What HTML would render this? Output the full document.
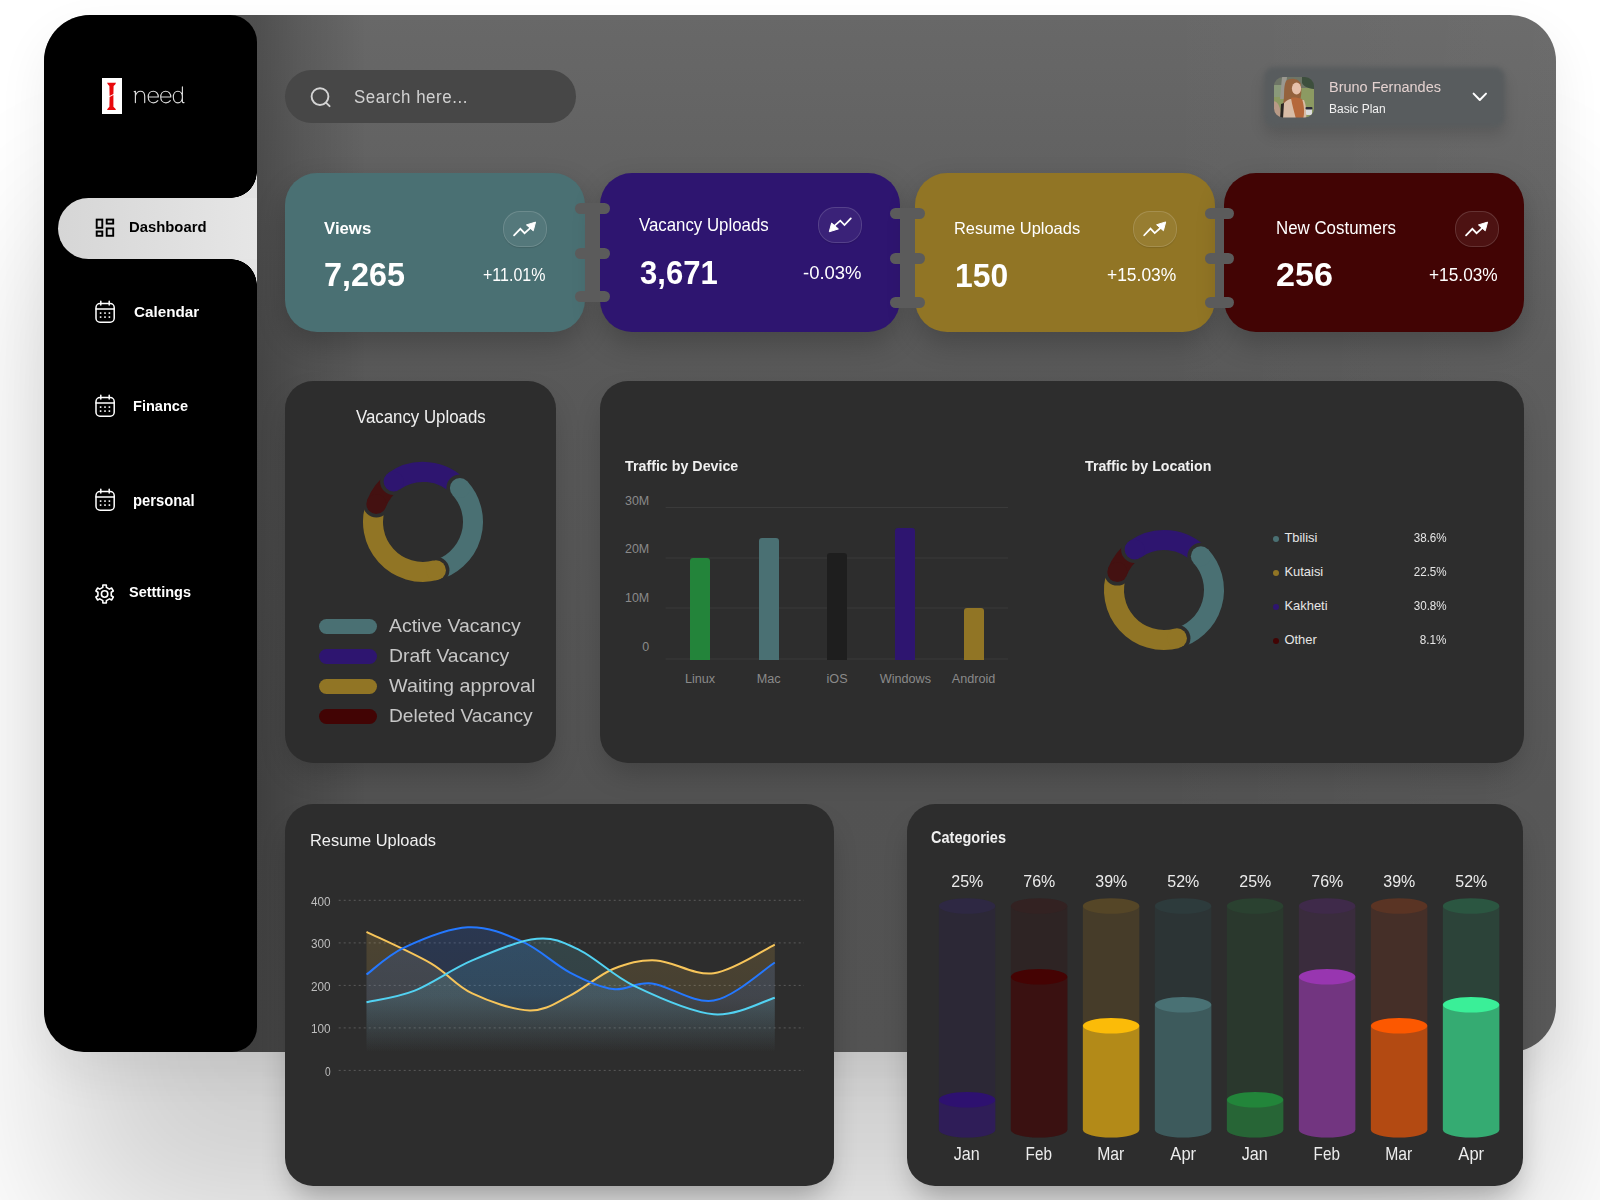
<!DOCTYPE html>
<html><head><meta charset="utf-8"><style>
*{margin:0;padding:0;box-sizing:border-box}
html,body{width:1600px;height:1200px;overflow:hidden;background:#fff;font-family:"Liberation Sans",sans-serif}
.t{position:absolute;white-space:nowrap;line-height:1}
.a{position:absolute}
svg{position:absolute;overflow:visible}

</style></head><body>
<div class="a" style="left:44px;top:15px;width:1512px;height:1037px;border-radius:46px;box-shadow:0 200px 170px -15px rgba(0,0,0,.19),0 20px 50px rgba(0,0,0,.07)"></div>
<div class="a" style="left:44px;top:15px;width:1512px;height:1037px;border-radius:46px;overflow:hidden;background:linear-gradient(180deg,#686868 0%,#636363 12%,#595959 33%,#525252 75%,#535353 100%)"><div class="a" style="left:186px;top:0;width:137px;height:1037px;background:linear-gradient(90deg,rgba(0,0,0,.24),rgba(0,0,0,.24) 19.7%,rgba(0,0,0,.12) 52%,rgba(0,0,0,0))"></div><div class="a" style="left:1100px;top:0;width:412px;height:1037px;background:linear-gradient(90deg,rgba(255,255,255,0),rgba(255,255,255,.03))"></div></div>
<div class="a" style="left:44px;top:15px;width:213px;height:1037px;border-radius:46px 27px 25px 40px;background:#000"></div>
<div class="a" style="left:231px;top:172px;width:26px;height:26px;background:radial-gradient(circle at 0 0,#000 25.5px,#e2e2e2 26px)"></div>
<div class="a" style="left:231px;top:259px;width:26px;height:26px;background:radial-gradient(circle at 0 100%,#000 25.5px,#e4e4e4 26px)"></div>
<div class="a" style="left:58px;top:198px;width:199px;height:61px;border-radius:30.5px 0 0 30.5px;background:linear-gradient(90deg,#d6d6d6,#e6e6e6)"></div>
<div class="a" style="left:102px;top:78px;width:19.5px;height:35.6px;background:#fff"></div>
<svg style="left:0;top:0" width="1600" height="1200"><path d="M107 82.8 L116 82.8 L115.2 84.6 L113.6 86 L113.4 94 L109.6 96 L109.4 86 L108 84.6 Z M109.6 97 L113.4 95 L113.4 106.8 L115.2 108.4 L116 110 L107 110 L107.8 108.4 L109.4 106.8 Z" fill="#e8080c"/></svg>
<svg style="left:0;top:0" width="300" height="200" fill="none" stroke="#dcdcdc" stroke-width="1.15" stroke-linecap="round"><path d="M134.2 91.6 L135.4 91.4 V102.6 M135.4 95.8 C136.4 92.6 138.4 91.2 140.4 91.2 C143.2 91.2 144.7 93 144.7 96.2 V102.6"/><path d="M148.2 97 H158.3 C158.4 93.6 156.2 91.2 153.2 91.2 C150.2 91.2 148.2 93.8 148.2 97 C148.2 100.4 150.4 102.8 153.4 102.8 C155.4 102.8 156.8 102 157.8 100.6"/><path d="M160.7 97 H170.8 C170.9 93.6 168.7 91.2 165.7 91.2 C162.7 91.2 160.7 93.8 160.7 97 C160.7 100.4 162.9 102.8 165.9 102.8 C167.9 102.8 169.3 102 170.3 100.6"/><path d="M182.4 97 C182.4 93.6 180.4 91.2 177.9 91.2 C175.2 91.2 173.3 93.6 173.3 97 C173.3 100.4 175.2 102.8 177.9 102.8 C180.4 102.8 182.4 100.4 182.4 97 M182.4 86.9 V101.8 C182.4 102.4 182.9 102.7 184 102.6"/></svg>
<svg style="left:0;top:0" width="300" height="700" fill="none" stroke="#000" stroke-width="1.9"><rect x="96.7" y="219.6" width="5.6" height="8.2"/><rect x="106.7" y="219.6" width="6.5" height="4"/><rect x="96.7" y="231.5" width="5.6" height="4.3"/><rect x="106.7" y="228.4" width="6.5" height="7.4"/></svg>
<div class="t" style="transform-origin:0 0;transform:scaleX(1.0220);left:128.50px;top:220.20px;font-size:14.53px;font-weight:700;color:#000;">Dashboard</div>
<svg style="left:0;top:300px" width="200" height="40" fill="none" stroke="#fff" stroke-width="1.5" stroke-linecap="round"><rect x="96" y="3.6" width="18.2" height="18.6" rx="4"/><path d="M96 8.9 H114.2 M100.8 1.2 V5 M109.2 1.2 V5"/><g fill="#fff" stroke="none"><rect x="99.8" y="12.3" width="1.6" height="1.6"/><rect x="104.2" y="12.3" width="1.6" height="1.6"/><rect x="108.6" y="12.3" width="1.6" height="1.6"/><rect x="99.8" y="16.3" width="1.6" height="1.6"/><rect x="104.2" y="16.3" width="1.6" height="1.6"/><rect x="108.6" y="16.3" width="1.6" height="1.6"/></g></svg>
<svg style="left:0;top:394px" width="200" height="40" fill="none" stroke="#fff" stroke-width="1.5" stroke-linecap="round"><rect x="96" y="3.6" width="18.2" height="18.6" rx="4"/><path d="M96 8.9 H114.2 M100.8 1.2 V5 M109.2 1.2 V5"/><g fill="#fff" stroke="none"><rect x="99.8" y="12.3" width="1.6" height="1.6"/><rect x="104.2" y="12.3" width="1.6" height="1.6"/><rect x="108.6" y="12.3" width="1.6" height="1.6"/><rect x="99.8" y="16.3" width="1.6" height="1.6"/><rect x="104.2" y="16.3" width="1.6" height="1.6"/><rect x="108.6" y="16.3" width="1.6" height="1.6"/></g></svg>
<svg style="left:0;top:488px" width="200" height="40" fill="none" stroke="#fff" stroke-width="1.5" stroke-linecap="round"><rect x="96" y="3.6" width="18.2" height="18.6" rx="4"/><path d="M96 8.9 H114.2 M100.8 1.2 V5 M109.2 1.2 V5"/><g fill="#fff" stroke="none"><rect x="99.8" y="12.3" width="1.6" height="1.6"/><rect x="104.2" y="12.3" width="1.6" height="1.6"/><rect x="108.6" y="12.3" width="1.6" height="1.6"/><rect x="99.8" y="16.3" width="1.6" height="1.6"/><rect x="104.2" y="16.3" width="1.6" height="1.6"/><rect x="108.6" y="16.3" width="1.6" height="1.6"/></g></svg>
<div class="t" style="transform-origin:0 0;transform:scaleX(1.0273);left:133.50px;top:304.65px;font-size:14.83px;font-weight:700;color:#fff;">Calendar</div>
<div class="t" style="transform-origin:0 0;transform:scaleX(0.9542);left:133.30px;top:398.48px;font-size:15.26px;font-weight:700;color:#fff;">Finance</div>
<div class="t" style="transform-origin:0 0;transform:scaleX(0.9101);left:133.30px;top:491.72px;font-size:16.28px;font-weight:700;color:#fff;">personal</div>
<svg style="left:0;top:0" width="300" height="700" fill="none" stroke="#fff" stroke-width="1.6" stroke-linejoin="round"><path d="M102.81 587.34 L102.88 584.96 L106.32 584.96 L106.39 587.34 L109.48 589.12 L111.56 587.99 L113.29 590.97 L111.26 592.21 L111.26 595.79 L113.29 597.03 L111.56 600.01 L109.48 598.88 L106.39 600.66 L106.32 603.04 L102.88 603.04 L102.81 600.66 L99.72 598.88 L97.64 600.01 L95.91 597.03 L97.94 595.79 L97.94 592.21 L95.91 590.97 L97.64 587.99 L99.72 589.12Z"/><circle cx="104.6" cy="594" r="3.2"/></svg>
<div class="t" style="transform-origin:0 0;transform:scaleX(0.9982);left:129.00px;top:584.70px;font-size:14.53px;font-weight:700;color:#fff;">Setttings</div>
<div class="a" style="left:285px;top:70px;width:291px;height:53px;border-radius:26.5px;background:#474747"></div>
<svg style="left:0;top:0" width="400" height="200" fill="none" stroke="#d4d4d4" stroke-width="1.9" stroke-linecap="round"><circle cx="320" cy="96.6" r="8.4"/><path d="M326.2 102.8 L329.6 106.2"/></svg>
<div class="t" style="transform-origin:0 0;transform:scaleX(0.9378);left:353.60px;top:88.14px;font-size:18.02px;font-weight:400;color:#d2d2d2;letter-spacing:0.6px;">Search here...</div>
<div class="a" style="left:1264px;top:67px;width:241px;height:60px;border-radius:10px;background:#585c5e;filter:blur(2px);box-shadow:0 8px 14px rgba(0,0,0,.13)"></div>
<svg style="left:1274px;top:76.8px" width="40" height="40.4" viewBox="0 0 40 40.4"><defs><clipPath id="av"><rect x="0" y="0" width="40" height="40.4" rx="9"/></clipPath><filter id="avb"><feGaussianBlur stdDeviation="0.6"/></filter></defs><g clip-path="url(#av)"><g filter="url(#avb)"><rect x="-2" y="-2" width="44" height="45" fill="#8c9a62"/><rect x="-2" y="-2" width="44" height="13" fill="#6e7566"/><path d="M28 -2 H42 V12 C36 12 30 10 28 6 Z" fill="#3e4f3c"/><path d="M-2 8 H10 V20 H-2 Z" fill="#8a9a7a"/><path d="M8 0 L13 0 L10 22 L6 22 Z" fill="#9a9890"/><path d="M-2 24 C4 24 6 28 8 42 H-2 Z" fill="#b89a86"/><path d="M12 4 C16 0 26 1 27 8 C28 14 27 20 26 24 L18 26 C16 24 12 26 9 27 C11 20 9 10 12 4 Z" fill="#94623e"/><ellipse cx="22.5" cy="11.5" rx="4.6" ry="6" fill="#e6c0aa"/><path d="M6 42 C6 30 10 24 16 22 L30 23 C32 28 33 36 32 42 Z" fill="#d8bca6"/><path d="M17 21 C20 20 25 21 28 22 C30 28 31 36 29 42 H22 C20 34 18 28 17 21 Z" fill="#b5683a"/><path d="M7 27 L10 26 L9 42 L6 42 Z" fill="#2a2624"/><rect x="32" y="31" width="6" height="7" rx="1" fill="#dcdcdc"/><rect x="31.5" y="30" width="7" height="2.5" rx="1" fill="#2a2a38"/></g></g></svg>
<div class="t" style="transform-origin:0 0;transform:scaleX(1.0182);left:1329.00px;top:79.74px;font-size:14.24px;font-weight:400;color:#e4d2d0;">Bruno Fernandes</div>
<div class="t" style="transform-origin:0 0;transform:scaleX(0.9492);left:1329.00px;top:103.00px;font-size:12.65px;font-weight:400;color:#f2f2f2;">Basic Plan</div>
<svg style="left:0;top:0" width="1600" height="200" fill="none" stroke="#fff" stroke-width="2" stroke-linecap="round" stroke-linejoin="round"><path d="M1473.6 93.6 L1479.8 100 L1486 93.6"/></svg>
<div class="a" style="left:285px;top:173px;width:300px;height:159px;border-radius:32px;background:#4a7073;box-shadow:0 12px 28px rgba(0,0,0,.22)"></div>
<div class="a" style="left:600px;top:173px;width:300px;height:159px;border-radius:32px;background:#2e1570;box-shadow:0 12px 28px rgba(0,0,0,.22)"></div>
<div class="a" style="left:915px;top:173px;width:300px;height:159px;border-radius:32px;background:#917525;box-shadow:0 12px 28px rgba(0,0,0,.22)"></div>
<div class="a" style="left:1224px;top:173px;width:300px;height:159px;border-radius:32px;background:#420404;box-shadow:0 12px 28px rgba(0,0,0,.22)"></div>
<div class="a" style="left:585px;top:204.5px;width:15px;height:96.0px;background:#5b5b5b"></div>
<div class="a" style="left:575px;top:203.0px;width:35px;height:11px;border-radius:5.5px;background:#5b5b5b"></div>
<div class="a" style="left:575px;top:247.5px;width:35px;height:11px;border-radius:5.5px;background:#5b5b5b"></div>
<div class="a" style="left:575px;top:291.0px;width:35px;height:11px;border-radius:5.5px;background:#5b5b5b"></div>
<div class="a" style="left:900px;top:209.6px;width:15px;height:96.6px;background:#5b5b5b"></div>
<div class="a" style="left:890px;top:208.1px;width:35px;height:11px;border-radius:5.5px;background:#5b5b5b"></div>
<div class="a" style="left:890px;top:252.7px;width:35px;height:11px;border-radius:5.5px;background:#5b5b5b"></div>
<div class="a" style="left:890px;top:296.7px;width:35px;height:11px;border-radius:5.5px;background:#5b5b5b"></div>
<div class="a" style="left:1215px;top:209.6px;width:9px;height:96.6px;background:#5b5b5b"></div>
<div class="a" style="left:1205px;top:208.1px;width:29px;height:11px;border-radius:5.5px;background:#5b5b5b"></div>
<div class="a" style="left:1205px;top:252.7px;width:29px;height:11px;border-radius:5.5px;background:#5b5b5b"></div>
<div class="a" style="left:1205px;top:296.7px;width:29px;height:11px;border-radius:5.5px;background:#5b5b5b"></div>
<div class="a" style="left:503px;top:211px;width:43.700000000000045px;height:36px;border-radius:17px;background:rgba(255,255,255,.06);border:1px solid rgba(255,255,255,.14);box-shadow:0 1px 1px rgba(0,0,0,.12)"></div>
<svg style="left:0;top:0" width="1600" height="400"><g transform="translate(524.85 229.00)"><path d="M-10.8 6.4 L-4.5 -0.2 L-0.3 4.2 L6.2 -1.6" fill="none" stroke="#fff" stroke-width="1.8" stroke-linecap="round" stroke-linejoin="miter"/><path d="M10.7 -6.9 L1.6 -4.1 L8.4 1.8 Z" fill="#fff" stroke="#fff" stroke-width="1" stroke-linejoin="round"/></g></svg>
<div class="a" style="left:818px;top:206.8px;width:44px;height:36.099999999999994px;border-radius:17px;background:rgba(255,255,255,.06);border:1px solid rgba(255,255,255,.14);box-shadow:0 1px 1px rgba(0,0,0,.12)"></div>
<svg style="left:0;top:0" width="1600" height="400"><g transform="translate(840.00 224.85) rotate(180)"><path d="M-10.8 6.4 L-4.5 -0.2 L-0.3 4.2 L6.2 -1.6" fill="none" stroke="#fff" stroke-width="1.8" stroke-linecap="round" stroke-linejoin="miter"/><path d="M10.7 -6.9 L1.6 -4.1 L8.4 1.8 Z" fill="#fff" stroke="#fff" stroke-width="1" stroke-linejoin="round"/></g></svg>
<div class="a" style="left:1133px;top:211px;width:44px;height:35.69999999999999px;border-radius:17px;background:rgba(255,255,255,.06);border:1px solid rgba(255,255,255,.14);box-shadow:0 1px 1px rgba(0,0,0,.12)"></div>
<svg style="left:0;top:0" width="1600" height="400"><g transform="translate(1155.00 228.85)"><path d="M-10.8 6.4 L-4.5 -0.2 L-0.3 4.2 L6.2 -1.6" fill="none" stroke="#fff" stroke-width="1.8" stroke-linecap="round" stroke-linejoin="miter"/><path d="M10.7 -6.9 L1.6 -4.1 L8.4 1.8 Z" fill="#fff" stroke="#fff" stroke-width="1" stroke-linejoin="round"/></g></svg>
<div class="a" style="left:1455px;top:211px;width:43.700000000000045px;height:36px;border-radius:17px;background:rgba(255,255,255,.06);border:1px solid rgba(255,255,255,.14);box-shadow:0 1px 1px rgba(0,0,0,.12)"></div>
<svg style="left:0;top:0" width="1600" height="400"><g transform="translate(1476.85 229.00)"><path d="M-10.8 6.4 L-4.5 -0.2 L-0.3 4.2 L6.2 -1.6" fill="none" stroke="#fff" stroke-width="1.8" stroke-linecap="round" stroke-linejoin="miter"/><path d="M10.7 -6.9 L1.6 -4.1 L8.4 1.8 Z" fill="#fff" stroke="#fff" stroke-width="1" stroke-linejoin="round"/></g></svg>
<div class="t" style="transform-origin:0 0;transform:scaleX(0.9866);left:323.75px;top:220.30px;font-size:17.01px;font-weight:700;color:#fff;">Views</div>
<div class="t" style="transform-origin:0 0;transform:scaleX(0.9702);left:324.00px;top:258.46px;font-size:33.36px;font-weight:700;color:#fff;">7,265</div>
<div class="t" style="transform-origin:0 0;transform:scaleX(0.8564);left:482.60px;top:265.79px;font-size:18.68px;font-weight:400;color:#fff;">+11.01%</div>
<div class="t" style="transform-origin:0 0;transform:scaleX(0.9196);left:639.00px;top:216.10px;font-size:18.31px;font-weight:400;color:#fff;">Vacancy Uploads</div>
<div class="t" style="transform-origin:0 0;transform:scaleX(0.9333);left:639.70px;top:255.72px;font-size:33.28px;font-weight:700;color:#fff;">3,671</div>
<div class="t" style="transform-origin:0 0;transform:scaleX(0.9699);left:802.50px;top:262.88px;font-size:19.04px;font-weight:400;color:#fff;">-0.03%</div>
<div class="t" style="transform-origin:0 0;transform:scaleX(0.9842);left:953.50px;top:220.85px;font-size:16.72px;font-weight:400;color:#fff;">Resume Uploads</div>
<div class="t" style="transform-origin:0 0;transform:scaleX(0.9359);left:954.90px;top:258.21px;font-size:34.01px;font-weight:700;color:#fff;">150</div>
<div class="t" style="transform-origin:0 0;transform:scaleX(0.9227);left:1106.70px;top:266.01px;font-size:18.90px;font-weight:400;color:#fff;">+15.03%</div>
<div class="t" style="transform-origin:0 0;transform:scaleX(0.9675);left:1275.50px;top:220.24px;font-size:17.44px;font-weight:400;color:#fff;">New Costumers</div>
<div class="t" style="transform-origin:0 0;transform:scaleX(1.0565);left:1276.00px;top:258.62px;font-size:32.34px;font-weight:700;color:#fff;">256</div>
<div class="t" style="transform-origin:0 0;transform:scaleX(0.9153);left:1428.75px;top:265.76px;font-size:18.90px;font-weight:400;color:#fff;">+15.03%</div>
<div class="a" style="left:285px;top:381px;width:271px;height:382px;border-radius:28px;background:#2d2d2d;box-shadow:0 14px 30px -6px rgba(0,0,0,.22)"></div>
<div class="t" style="transform-origin:0 0;transform:scaleX(0.9196);left:355.80px;top:408.10px;font-size:18.31px;font-weight:400;color:#f0f0f0;">Vacancy Uploads</div>
<svg style="left:0;top:0" width="1600" height="1200"><mask id="dm1" maskUnits="userSpaceOnUse" x="0" y="0" width="1600" height="1200"><rect x="0" y="0" width="1600" height="1200" fill="#fff"/><circle cx="459.86" cy="488.12" r="13.5" fill="#000"/></mask><g mask="url(#dm1)"><path d="M393.61 481.45 A50 50 0 0 1 459.86 488.12" fill="none" stroke="#2e1570" stroke-width="20"/><circle cx="393.61" cy="481.45" r="10" fill="#2e1570"/></g><mask id="dm2" maskUnits="userSpaceOnUse" x="0" y="0" width="1600" height="1200"><rect x="0" y="0" width="1600" height="1200" fill="#fff"/><circle cx="435.94" cy="570.20" r="13.5" fill="#000"/></mask><g mask="url(#dm2)"><path d="M459.86 488.12 A50 50 0 0 1 435.94 570.20" fill="none" stroke="#4a7073" stroke-width="20"/><circle cx="459.86" cy="488.12" r="10" fill="#4a7073"/></g><mask id="dm3" maskUnits="userSpaceOnUse" x="0" y="0" width="1600" height="1200"><rect x="0" y="0" width="1600" height="1200" fill="#fff"/><circle cx="376.32" cy="503.98" r="13.5" fill="#000"/></mask><g mask="url(#dm3)"><path d="M435.94 570.20 A50 50 0 0 1 376.32 503.98" fill="none" stroke="#917525" stroke-width="20"/><circle cx="435.94" cy="570.20" r="10" fill="#917525"/></g><mask id="dm4" maskUnits="userSpaceOnUse" x="0" y="0" width="1600" height="1200"><rect x="0" y="0" width="1600" height="1200" fill="#fff"/><circle cx="393.61" cy="481.45" r="13.5" fill="#000"/></mask><g mask="url(#dm4)"><path d="M376.32 503.98 A50 50 0 0 1 393.61 481.45" fill="none" stroke="#441111" stroke-width="20"/><circle cx="376.32" cy="503.98" r="10" fill="#441111"/></g></svg>
<div class="a" style="left:318.6px;top:618.5px;width:58.7px;height:15px;border-radius:7.5px;background:#4a7073"></div>
<div class="t" style="transform-origin:0 0;transform:scaleX(1.0467);left:389.00px;top:617.05px;font-size:18.60px;font-weight:400;color:#c6c6c6;">Active Vacancy</div>
<div class="a" style="left:318.6px;top:648.5px;width:58.7px;height:15px;border-radius:7.5px;background:#2e1570"></div>
<div class="t" style="transform-origin:0 0;transform:scaleX(1.0424);left:389.00px;top:647.05px;font-size:18.60px;font-weight:400;color:#c6c6c6;">Draft Vacancy</div>
<div class="a" style="left:318.6px;top:678.5px;width:58.7px;height:15px;border-radius:7.5px;background:#917525"></div>
<div class="t" style="transform-origin:0 0;transform:scaleX(1.0616);left:389.00px;top:677.05px;font-size:18.60px;font-weight:400;color:#c6c6c6;">Waiting approval</div>
<div class="a" style="left:318.6px;top:708.5px;width:58.7px;height:15px;border-radius:7.5px;background:#420404"></div>
<div class="t" style="transform-origin:0 0;transform:scaleX(1.0316);left:389.00px;top:707.05px;font-size:18.60px;font-weight:400;color:#c6c6c6;">Deleted Vacancy</div>
<div class="a" style="left:600px;top:381px;width:924px;height:382px;border-radius:28px;background:#2d2d2d;box-shadow:0 14px 30px -6px rgba(0,0,0,.22)"></div>
<div class="t" style="transform-origin:0 0;transform:scaleX(0.9820);left:625.00px;top:458.70px;font-size:14.53px;font-weight:700;color:#f0f0f0;">Traffic by Device</div>
<div class="t" style="transform-origin:0 0;transform:scaleX(0.9795);left:1085.00px;top:458.70px;font-size:14.53px;font-weight:700;color:#f0f0f0;">Traffic by Location</div>
<svg style="left:0;top:0" width="1600" height="1200"><path d="M665.6 507.5 H1008" stroke="#3a3a3a" stroke-width="1"/><path d="M665.6 558 H1008" stroke="#3a3a3a" stroke-width="1"/><path d="M665.6 608 H1008" stroke="#3a3a3a" stroke-width="1"/><path d="M665.6 659 H1008" stroke="#3a3a3a" stroke-width="1"/></svg>
<div class="t" style="left:624.97px;top:494.72px;font-size:12.50px;font-weight:400;color:#8a8a8a;">30M</div>
<div class="t" style="left:624.97px;top:543.42px;font-size:12.50px;font-weight:400;color:#8a8a8a;">20M</div>
<div class="t" style="left:624.97px;top:592.02px;font-size:12.50px;font-weight:400;color:#8a8a8a;">10M</div>
<div class="t" style="left:642.35px;top:641.02px;font-size:12.50px;font-weight:400;color:#8a8a8a;">0</div>
<div class="a" style="left:690px;top:558px;width:20.2px;height:101.70000000000005px;border-radius:3px 3px 0 0;background:#23843a"></div>
<div class="t" style="left:684.98px;top:672.50px;font-size:12.65px;font-weight:400;color:#8a8a8a;">Linux</div>
<div class="a" style="left:758.5px;top:538px;width:20.2px;height:121.70000000000005px;border-radius:3px 3px 0 0;background:#4a7073"></div>
<div class="t" style="left:756.65px;top:672.50px;font-size:12.65px;font-weight:400;color:#8a8a8a;">Mac</div>
<div class="a" style="left:827px;top:552.9px;width:20.2px;height:106.80000000000007px;border-radius:3px 3px 0 0;background:#1e1e1e"></div>
<div class="t" style="left:826.56px;top:672.50px;font-size:12.65px;font-weight:400;color:#8a8a8a;">iOS</div>
<div class="a" style="left:895.3px;top:528px;width:20.2px;height:131.70000000000005px;border-radius:3px 3px 0 0;background:#2e1570"></div>
<div class="t" style="left:879.76px;top:672.50px;font-size:12.65px;font-weight:400;color:#8a8a8a;">Windows</div>
<div class="a" style="left:963.5px;top:608px;width:20.2px;height:51.700000000000045px;border-radius:3px 3px 0 0;background:#917525"></div>
<div class="t" style="left:951.81px;top:672.50px;font-size:12.65px;font-weight:400;color:#8a8a8a;">Android</div>
<svg style="left:0;top:0" width="1600" height="1200"><mask id="dm5" maskUnits="userSpaceOnUse" x="0" y="0" width="1600" height="1200"><rect x="0" y="0" width="1600" height="1200" fill="#fff"/><circle cx="1200.86" cy="556.22" r="13.5" fill="#000"/></mask><g mask="url(#dm5)"><path d="M1134.61 549.55 A50 50 0 0 1 1200.86 556.22" fill="none" stroke="#2e1570" stroke-width="20"/><circle cx="1134.61" cy="549.55" r="10" fill="#2e1570"/></g><mask id="dm6" maskUnits="userSpaceOnUse" x="0" y="0" width="1600" height="1200"><rect x="0" y="0" width="1600" height="1200" fill="#fff"/><circle cx="1176.94" cy="638.30" r="13.5" fill="#000"/></mask><g mask="url(#dm6)"><path d="M1200.86 556.22 A50 50 0 0 1 1176.94 638.30" fill="none" stroke="#4a7073" stroke-width="20"/><circle cx="1200.86" cy="556.22" r="10" fill="#4a7073"/></g><mask id="dm7" maskUnits="userSpaceOnUse" x="0" y="0" width="1600" height="1200"><rect x="0" y="0" width="1600" height="1200" fill="#fff"/><circle cx="1117.32" cy="572.08" r="13.5" fill="#000"/></mask><g mask="url(#dm7)"><path d="M1176.94 638.30 A50 50 0 0 1 1117.32 572.08" fill="none" stroke="#917525" stroke-width="20"/><circle cx="1176.94" cy="638.30" r="10" fill="#917525"/></g><mask id="dm8" maskUnits="userSpaceOnUse" x="0" y="0" width="1600" height="1200"><rect x="0" y="0" width="1600" height="1200" fill="#fff"/><circle cx="1134.61" cy="549.55" r="13.5" fill="#000"/></mask><g mask="url(#dm8)"><path d="M1117.32 572.08 A50 50 0 0 1 1134.61 549.55" fill="none" stroke="#441111" stroke-width="20"/><circle cx="1117.32" cy="572.08" r="10" fill="#441111"/></g></svg>
<div class="a" style="left:1272.7px;top:536.0px;width:6px;height:6px;border-radius:50%;background:#4a7073"></div>
<div class="t" style="left:1284.40px;top:532.45px;font-size:12.94px;font-weight:400;color:#e6e6e6;">Tbilisi</div>
<div class="t" style="left:1409.91px;transform-origin:100% 0;transform:scaleX(0.8995);top:532.45px;font-size:12.94px;font-weight:400;color:#e6e6e6;">38.6%</div>
<div class="a" style="left:1272.7px;top:569.9px;width:6px;height:6px;border-radius:50%;background:#917525"></div>
<div class="t" style="left:1284.40px;top:566.35px;font-size:12.94px;font-weight:400;color:#e6e6e6;">Kutaisi</div>
<div class="t" style="left:1409.91px;transform-origin:100% 0;transform:scaleX(0.8995);top:566.35px;font-size:12.94px;font-weight:400;color:#e6e6e6;">22.5%</div>
<div class="a" style="left:1272.7px;top:603.8px;width:6px;height:6px;border-radius:50%;background:#2e1570"></div>
<div class="t" style="left:1284.40px;top:600.25px;font-size:12.94px;font-weight:400;color:#e6e6e6;">Kakheti</div>
<div class="t" style="left:1409.91px;transform-origin:100% 0;transform:scaleX(0.8995);top:600.25px;font-size:12.94px;font-weight:400;color:#e6e6e6;">30.8%</div>
<div class="a" style="left:1272.7px;top:637.7px;width:6px;height:6px;border-radius:50%;background:#420404"></div>
<div class="t" style="left:1284.40px;top:634.15px;font-size:12.94px;font-weight:400;color:#e6e6e6;">Other</div>
<div class="t" style="left:1417.10px;transform-origin:100% 0;transform:scaleX(0.9085);top:634.15px;font-size:12.94px;font-weight:400;color:#e6e6e6;">8.1%</div>
<div class="a" style="left:285px;top:804px;width:549px;height:382px;border-radius:28px;background:#2d2d2d;box-shadow:0 18px 30px -8px rgba(0,0,0,.3)"></div>
<div class="t" style="transform-origin:0 0;transform:scaleX(0.9662);left:309.50px;top:831.90px;font-size:17.01px;font-weight:400;color:#f0f0f0;">Resume Uploads</div>
<div class="t" style="transform-origin:0 0;transform:scaleX(0.9396);left:310.80px;top:895.62px;font-size:12.50px;font-weight:400;color:#bdbdbd;">400</div>
<div class="t" style="transform-origin:0 0;transform:scaleX(0.9747);left:310.80px;top:938.49px;font-size:12.06px;font-weight:400;color:#bdbdbd;">300</div>
<div class="t" style="transform-origin:0 0;transform:scaleX(0.9747);left:310.80px;top:980.99px;font-size:12.06px;font-weight:400;color:#bdbdbd;">200</div>
<div class="t" style="transform-origin:0 0;transform:scaleX(0.9747);left:310.80px;top:1023.39px;font-size:12.06px;font-weight:400;color:#bdbdbd;">100</div>
<div class="t" style="transform-origin:0 0;transform:scaleX(0.8429);left:324.75px;top:1065.59px;font-size:12.06px;font-weight:400;color:#bdbdbd;">0</div>
<svg style="left:0;top:0" width="1600" height="1200"><defs><linearGradient id="fy" x1="0" y1="0" x2="0" y2="1" gradientUnits="objectBoundingBox"><stop offset="0" stop-color="#ffc850" stop-opacity=".15"/><stop offset=".55" stop-color="#ffc850" stop-opacity=".12"/><stop offset="1" stop-color="#ffc850" stop-opacity="0"/></linearGradient><linearGradient id="fb" x1="0" y1="0" x2="0" y2="1"><stop offset="0" stop-color="#1f6bff" stop-opacity=".17"/><stop offset=".55" stop-color="#1f6bff" stop-opacity=".13"/><stop offset="1" stop-color="#1f6bff" stop-opacity="0"/></linearGradient><linearGradient id="fc" x1="0" y1="0" x2="0" y2="1"><stop offset="0" stop-color="#60d8f0" stop-opacity=".14"/><stop offset=".5" stop-color="#60d8f0" stop-opacity=".12"/><stop offset="1" stop-color="#60d8f0" stop-opacity="0"/></linearGradient></defs><path d="M338.7 900.3 H804" stroke="#5a5a5a" stroke-width="1" stroke-dasharray="2 3"/><path d="M338.7 942.9 H804" stroke="#5a5a5a" stroke-width="1" stroke-dasharray="2 3"/><path d="M338.7 985.4 H804" stroke="#5a5a5a" stroke-width="1" stroke-dasharray="2 3"/><path d="M338.7 1027.9 H804" stroke="#5a5a5a" stroke-width="1" stroke-dasharray="2 3"/><path d="M338.7 1070.4 H804" stroke="#5a5a5a" stroke-width="1" stroke-dasharray="2 3"/><path d="M366.50 931.90 C377.17 937.12 412.88 952.95 430.50 963.20 C448.12 973.45 455.67 985.53 472.20 993.40 C488.73 1001.27 513.40 1010.03 529.70 1010.40 C546.00 1010.77 556.10 1002.50 570.00 995.60 C583.90 988.70 598.73 974.87 613.10 969.00 C627.47 963.13 639.43 959.68 656.20 960.40 C672.97 961.12 693.93 975.93 713.70 973.30 C733.47 970.67 764.62 949.38 774.80 944.60 L774.8 1052 L366.5 1052 Z" fill="url(#fy)"/><path d="M366.50 974.50 C372.85 969.98 387.70 955.27 404.60 947.40 C421.50 939.53 448.25 928.25 467.90 927.30 C487.55 926.35 505.48 934.15 522.50 941.70 C539.52 949.25 554.90 964.70 570.00 972.60 C585.10 980.50 599.45 987.30 613.10 989.10 C626.75 990.90 635.13 981.48 651.90 983.40 C668.67 985.32 693.22 1004.08 713.70 1000.60 C734.18 997.12 764.62 968.85 774.80 962.50 L774.8 1052 L366.5 1052 Z" fill="url(#fb)"/><path d="M366.50 1002.30 C374.53 1000.35 397.08 997.58 414.70 990.60 C432.32 983.62 451.83 969.03 472.20 960.40 C492.57 951.77 518.93 940.48 536.90 938.80 C554.87 937.12 563.70 942.40 580.00 950.30 C596.30 958.20 612.42 975.53 634.70 986.20 C656.98 996.87 690.35 1012.38 713.70 1014.30 C737.05 1016.22 764.62 1000.47 774.80 997.70 L774.8 1052 L366.5 1052 Z" fill="url(#fc)"/><path d="M366.50 931.90 C377.17 937.12 412.88 952.95 430.50 963.20 C448.12 973.45 455.67 985.53 472.20 993.40 C488.73 1001.27 513.40 1010.03 529.70 1010.40 C546.00 1010.77 556.10 1002.50 570.00 995.60 C583.90 988.70 598.73 974.87 613.10 969.00 C627.47 963.13 639.43 959.68 656.20 960.40 C672.97 961.12 693.93 975.93 713.70 973.30 C733.47 970.67 764.62 949.38 774.80 944.60" fill="none" stroke="#f7c55a" stroke-width="2"/><path d="M366.50 974.50 C372.85 969.98 387.70 955.27 404.60 947.40 C421.50 939.53 448.25 928.25 467.90 927.30 C487.55 926.35 505.48 934.15 522.50 941.70 C539.52 949.25 554.90 964.70 570.00 972.60 C585.10 980.50 599.45 987.30 613.10 989.10 C626.75 990.90 635.13 981.48 651.90 983.40 C668.67 985.32 693.22 1004.08 713.70 1000.60 C734.18 997.12 764.62 968.85 774.80 962.50" fill="none" stroke="#2478ff" stroke-width="2"/><path d="M366.50 1002.30 C374.53 1000.35 397.08 997.58 414.70 990.60 C432.32 983.62 451.83 969.03 472.20 960.40 C492.57 951.77 518.93 940.48 536.90 938.80 C554.87 937.12 563.70 942.40 580.00 950.30 C596.30 958.20 612.42 975.53 634.70 986.20 C656.98 996.87 690.35 1012.38 713.70 1014.30 C737.05 1016.22 764.62 1000.47 774.80 997.70" fill="none" stroke="#52d2f2" stroke-width="2"/></svg>
<div class="a" style="left:907px;top:804px;width:616px;height:382px;border-radius:28px;background:#2d2d2d;box-shadow:0 18px 30px -8px rgba(0,0,0,.3)"></div>
<div class="t" style="transform-origin:0 0;transform:scaleX(0.8920);left:931.00px;top:829.42px;font-size:16.28px;font-weight:700;color:#f0f0f0;">Categories</div>
<div class="t" style="left:949.80px;transform:scaleX(0.9250);top:873.26px;font-size:17.30px;font-weight:400;color:#ececec;">25%</div>
<div class="t" style="left:952.34px;transform:scaleX(0.8809);top:1144.50px;font-size:18.31px;font-weight:400;color:#ececec;">Jan</div>
<div class="t" style="left:1021.80px;transform:scaleX(0.9250);top:873.26px;font-size:17.30px;font-weight:400;color:#ececec;">76%</div>
<div class="t" style="left:1023.33px;transform:scaleX(0.8341);top:1144.50px;font-size:18.31px;font-weight:400;color:#ececec;">Feb</div>
<div class="t" style="left:1093.80px;transform:scaleX(0.9250);top:873.26px;font-size:17.30px;font-weight:400;color:#ececec;">39%</div>
<div class="t" style="left:1095.34px;transform:scaleX(0.8599);top:1144.50px;font-size:18.31px;font-weight:400;color:#ececec;">Mar</div>
<div class="t" style="left:1165.80px;transform:scaleX(0.9250);top:873.26px;font-size:17.30px;font-weight:400;color:#ececec;">52%</div>
<div class="t" style="left:1168.86px;transform:scaleX(0.9058);top:1144.50px;font-size:18.31px;font-weight:400;color:#ececec;">Apr</div>
<div class="t" style="left:1237.80px;transform:scaleX(0.9250);top:873.26px;font-size:17.30px;font-weight:400;color:#ececec;">25%</div>
<div class="t" style="left:1240.34px;transform:scaleX(0.8809);top:1144.50px;font-size:18.31px;font-weight:400;color:#ececec;">Jan</div>
<div class="t" style="left:1309.80px;transform:scaleX(0.9250);top:873.26px;font-size:17.30px;font-weight:400;color:#ececec;">76%</div>
<div class="t" style="left:1311.33px;transform:scaleX(0.8341);top:1144.50px;font-size:18.31px;font-weight:400;color:#ececec;">Feb</div>
<div class="t" style="left:1381.80px;transform:scaleX(0.9250);top:873.26px;font-size:17.30px;font-weight:400;color:#ececec;">39%</div>
<div class="t" style="left:1383.34px;transform:scaleX(0.8599);top:1144.50px;font-size:18.31px;font-weight:400;color:#ececec;">Mar</div>
<div class="t" style="left:1453.80px;transform:scaleX(0.9250);top:873.26px;font-size:17.30px;font-weight:400;color:#ececec;">52%</div>
<div class="t" style="left:1456.86px;transform:scaleX(0.9058);top:1144.50px;font-size:18.31px;font-weight:400;color:#ececec;">Apr</div>
<svg style="left:0;top:0" width="1600" height="1200"><path d="M938.85 906 V1129.8 A28.25 7.8 0 0 0 995.35 1129.8 V906 Z" fill="#2c2836"/><ellipse cx="967.1" cy="906" rx="28.25" ry="7.8" fill="#2e2843"/><path d="M938.85 1099.7 V1129.8 A28.25 7.8 0 0 0 995.35 1129.8 V1099.7 Z" fill="#2f1d58"/><ellipse cx="967.1" cy="1099.7" rx="28.25" ry="7.8" fill="#2e1170"/><path d="M1010.85 906 V1129.8 A28.25 7.8 0 0 0 1067.35 1129.8 V906 Z" fill="#2e2424"/><ellipse cx="1039.1" cy="906" rx="28.25" ry="7.8" fill="#332222"/><path d="M1010.85 976.8 V1129.8 A28.25 7.8 0 0 0 1067.35 1129.8 V976.8 Z" fill="#3a1111"/><ellipse cx="1039.1" cy="976.8" rx="28.25" ry="7.8" fill="#450303"/><path d="M1082.85 906 V1129.8 A28.25 7.8 0 0 0 1139.35 1129.8 V906 Z" fill="#463c29"/><ellipse cx="1111.1" cy="906" rx="28.25" ry="7.8" fill="#554627"/><path d="M1082.85 1025.8 V1129.8 A28.25 7.8 0 0 0 1139.35 1129.8 V1025.8 Z" fill="#b38a18"/><ellipse cx="1111.1" cy="1025.8" rx="28.25" ry="7.8" fill="#fbbb08"/><path d="M1154.85 906 V1129.8 A28.25 7.8 0 0 0 1211.35 1129.8 V906 Z" fill="#2c3435"/><ellipse cx="1183.1" cy="906" rx="28.25" ry="7.8" fill="#2d3b3c"/><path d="M1154.85 1004.8 V1129.8 A28.25 7.8 0 0 0 1211.35 1129.8 V1004.8 Z" fill="#3d5a5c"/><ellipse cx="1183.1" cy="1004.8" rx="28.25" ry="7.8" fill="#497174"/><path d="M1226.85 906 V1129.8 A28.25 7.8 0 0 0 1283.35 1129.8 V906 Z" fill="#2a382d"/><ellipse cx="1255.1" cy="906" rx="28.25" ry="7.8" fill="#2a4130"/><path d="M1226.85 1099.7 V1129.8 A28.25 7.8 0 0 0 1283.35 1129.8 V1099.7 Z" fill="#276536"/><ellipse cx="1255.1" cy="1099.7" rx="28.25" ry="7.8" fill="#22853a"/><path d="M1298.85 906 V1129.8 A28.25 7.8 0 0 0 1355.35 1129.8 V906 Z" fill="#3a2c3d"/><ellipse cx="1327.1" cy="906" rx="28.25" ry="7.8" fill="#3f2a4a"/><path d="M1298.85 976.8 V1129.8 A28.25 7.8 0 0 0 1355.35 1129.8 V976.8 Z" fill="#723580"/><ellipse cx="1327.1" cy="976.8" rx="28.25" ry="7.8" fill="#9836b0"/><path d="M1370.85 906 V1129.8 A28.25 7.8 0 0 0 1427.35 1129.8 V906 Z" fill="#452f28"/><ellipse cx="1399.1" cy="906" rx="28.25" ry="7.8" fill="#5a3424"/><path d="M1370.85 1025.8 V1129.8 A28.25 7.8 0 0 0 1427.35 1129.8 V1025.8 Z" fill="#b34a12"/><ellipse cx="1399.1" cy="1025.8" rx="28.25" ry="7.8" fill="#fc5800"/><path d="M1442.85 906 V1129.8 A28.25 7.8 0 0 0 1499.35 1129.8 V906 Z" fill="#2c4339"/><ellipse cx="1471.1" cy="906" rx="28.25" ry="7.8" fill="#2b5641"/><path d="M1442.85 1004.8 V1129.8 A28.25 7.8 0 0 0 1499.35 1129.8 V1004.8 Z" fill="#35ab72"/><ellipse cx="1471.1" cy="1004.8" rx="28.25" ry="7.8" fill="#3aef98"/></svg>
</body></html>
